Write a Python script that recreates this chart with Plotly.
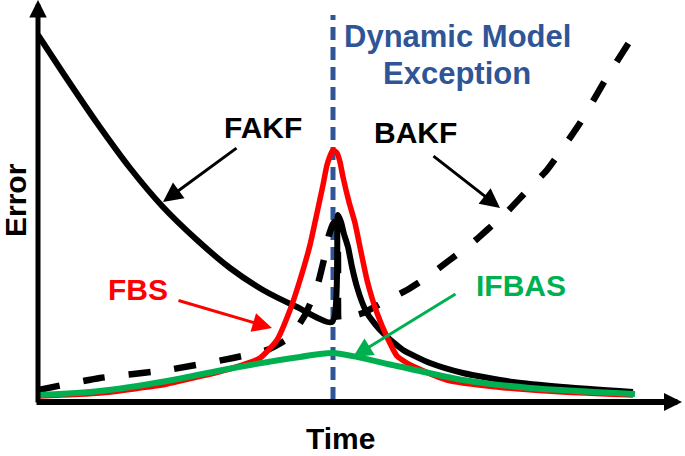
import plotly.graph_objects as go

# Conceptual chart: units are arbitrary (time, error)
fakf_t = [0, 25, 59, 92, 125, 159, 192, 225, 259, 294, 300, 303, 306, 310, 314, 319, 324, 329, 337, 345, 355, 365, 392, 425, 475, 525, 595]
fakf_e = [367, 329, 279, 234, 195, 162, 134, 112, 95, 80, 187, 180, 168, 155, 135, 115, 100, 89, 78, 69, 60, 52, 39, 29, 20, 15, 10]

fbs_t = [0, 62, 129, 195, 222, 239, 252, 262, 272, 279, 285, 289, 295, 299, 302, 305, 311, 317, 323, 329, 334, 339, 349, 359, 369, 379, 409, 459, 525, 595]
fbs_e = [6, 9, 18, 34, 44, 62, 92, 122, 157, 189, 217, 237, 252, 249, 240, 225, 200, 179, 150, 122, 104, 89, 65, 46, 39, 34, 22, 15, 10, 7]

ifbas_t = [0, 62, 129, 195, 262, 295, 359, 425, 492, 597]
ifbas_e = [7, 11, 21, 34, 45, 49, 36, 22, 14, 8]

bakf_t = [0, 62, 129, 195, 229, 252, 267, 279, 287, 291, 296, 299, 300, 300, 301, 312, 325, 349, 369, 392, 409, 432, 449, 469, 485, 509, 542, 569, 599]
bakf_e = [12, 24, 32, 44, 52, 65, 87, 115, 147, 167, 180, 174, 142, 99, 80, 85, 89, 102, 112, 127, 140, 157, 172, 190, 207, 232, 279, 325, 372]

exception_time = 295
exception_span = [2, 387]

BLACK = "#000000"
RED = "#FF0000"
GREEN = "#00B050"
BLUE = "#2F5597"
FONT = "Liberation Sans, Arial, sans-serif"

fig = go.Figure()

fig.add_trace(go.Scatter(x=[exception_time, exception_time], y=exception_span, mode="lines",
                         line=dict(color=BLUE, width=5, dash="13px,7px"), hoverinfo="skip"))
fig.add_trace(go.Scatter(x=bakf_t, y=bakf_e, mode="lines", line=dict(color=BLACK, width=6.5, dash="22px,24px", shape="spline", smoothing=0.5)))
fig.add_trace(go.Scatter(x=fakf_t, y=fakf_e, mode="lines", line=dict(color=BLACK, width=6, shape="spline", smoothing=0.6)))
fig.add_trace(go.Scatter(x=fbs_t, y=fbs_e, mode="lines", line=dict(color=RED, width=5.5, shape="spline", smoothing=0.5)))
fig.add_trace(go.Scatter(x=ifbas_t, y=ifbas_e, mode="lines", line=dict(color=GREEN, width=6, shape="spline", smoothing=0.8)))

anns = []
# Axes with arrowheads
anns.append(dict(x=0, y=402, ax=0, ay=-2, xref="x", yref="y", axref="x", ayref="y", text="",
                 showarrow=True, arrowhead=2, arrowsize=0.7, arrowwidth=5, arrowcolor=BLACK, standoff=0))
anns.append(dict(x=644, y=0, ax=-3, ay=0, xref="x", yref="y", axref="x", ayref="y", text="",
                 showarrow=True, arrowhead=2, arrowsize=0.6, arrowwidth=6, arrowcolor=BLACK, standoff=0))

# Callout arrows
def callout(hx, hy, tx, ty, color):
    return dict(x=hx, y=hy, ax=tx, ay=ty, xref="x", yref="y", axref="x", ayref="y", text="",
                showarrow=True, arrowhead=2, arrowsize=1.3, arrowwidth=3, arrowcolor=color, standoff=0)

anns.append(callout(125, 200, 200, 255, BLACK))   # FAKF
anns.append(callout(462, 194, 394, 247, BLACK))   # BAKF
anns.append(callout(234, 74, 139, 102, RED))      # FBS
anns.append(callout(315, 45, 419, 109, GREEN))    # IFBAS

def label(txt, x, y, color, size=30):
    return dict(x=x, y=y, xref="x", yref="y", text="<b>" + txt + "</b>", showarrow=False,
                font=dict(family=FONT, size=size, color=color), xanchor="center", yanchor="middle")

anns.append(label("FAKF", 225, 275, BLACK))
anns.append(label("BAKF", 377, 270, BLACK))
anns.append(label("FBS", 100, 113, RED))
anns.append(label("IFBAS", 483, 117, GREEN))
anns.append(label("Dynamic Model", 419, 366, BLUE, size=31))
anns.append(label("Exception", 419, 329, BLUE, size=31))

# Axis titles in paper space (outside the plotting area)
anns.append(dict(x=(340 - 38) / 644, y=-36 / 402, xref="paper", yref="paper", text="<b>Time</b>",
                 showarrow=False, font=dict(family=FONT, size=30, color=BLACK),
                 xanchor="center", yanchor="middle"))
anns.append(dict(x=(16 - 38) / 644, y=(402 - 200) / 402, xref="paper", yref="paper", text="<b>Error</b>",
                 showarrow=False, font=dict(family=FONT, size=30, color=BLACK), textangle=-90,
                 xanchor="center", yanchor="middle"))

fig.update_layout(
    annotations=anns,
    width=685, height=456,
    margin=dict(l=38, r=3, t=0, b=54),
    paper_bgcolor="white", plot_bgcolor="white",
    showlegend=False,
    xaxis=dict(range=[0, 644], visible=False, fixedrange=True),
    yaxis=dict(range=[0, 402], visible=False, fixedrange=True),
)

fig.write_html("out.html", config={"displayModeBar": False},
               post_script="document.body.style.margin='0';")
